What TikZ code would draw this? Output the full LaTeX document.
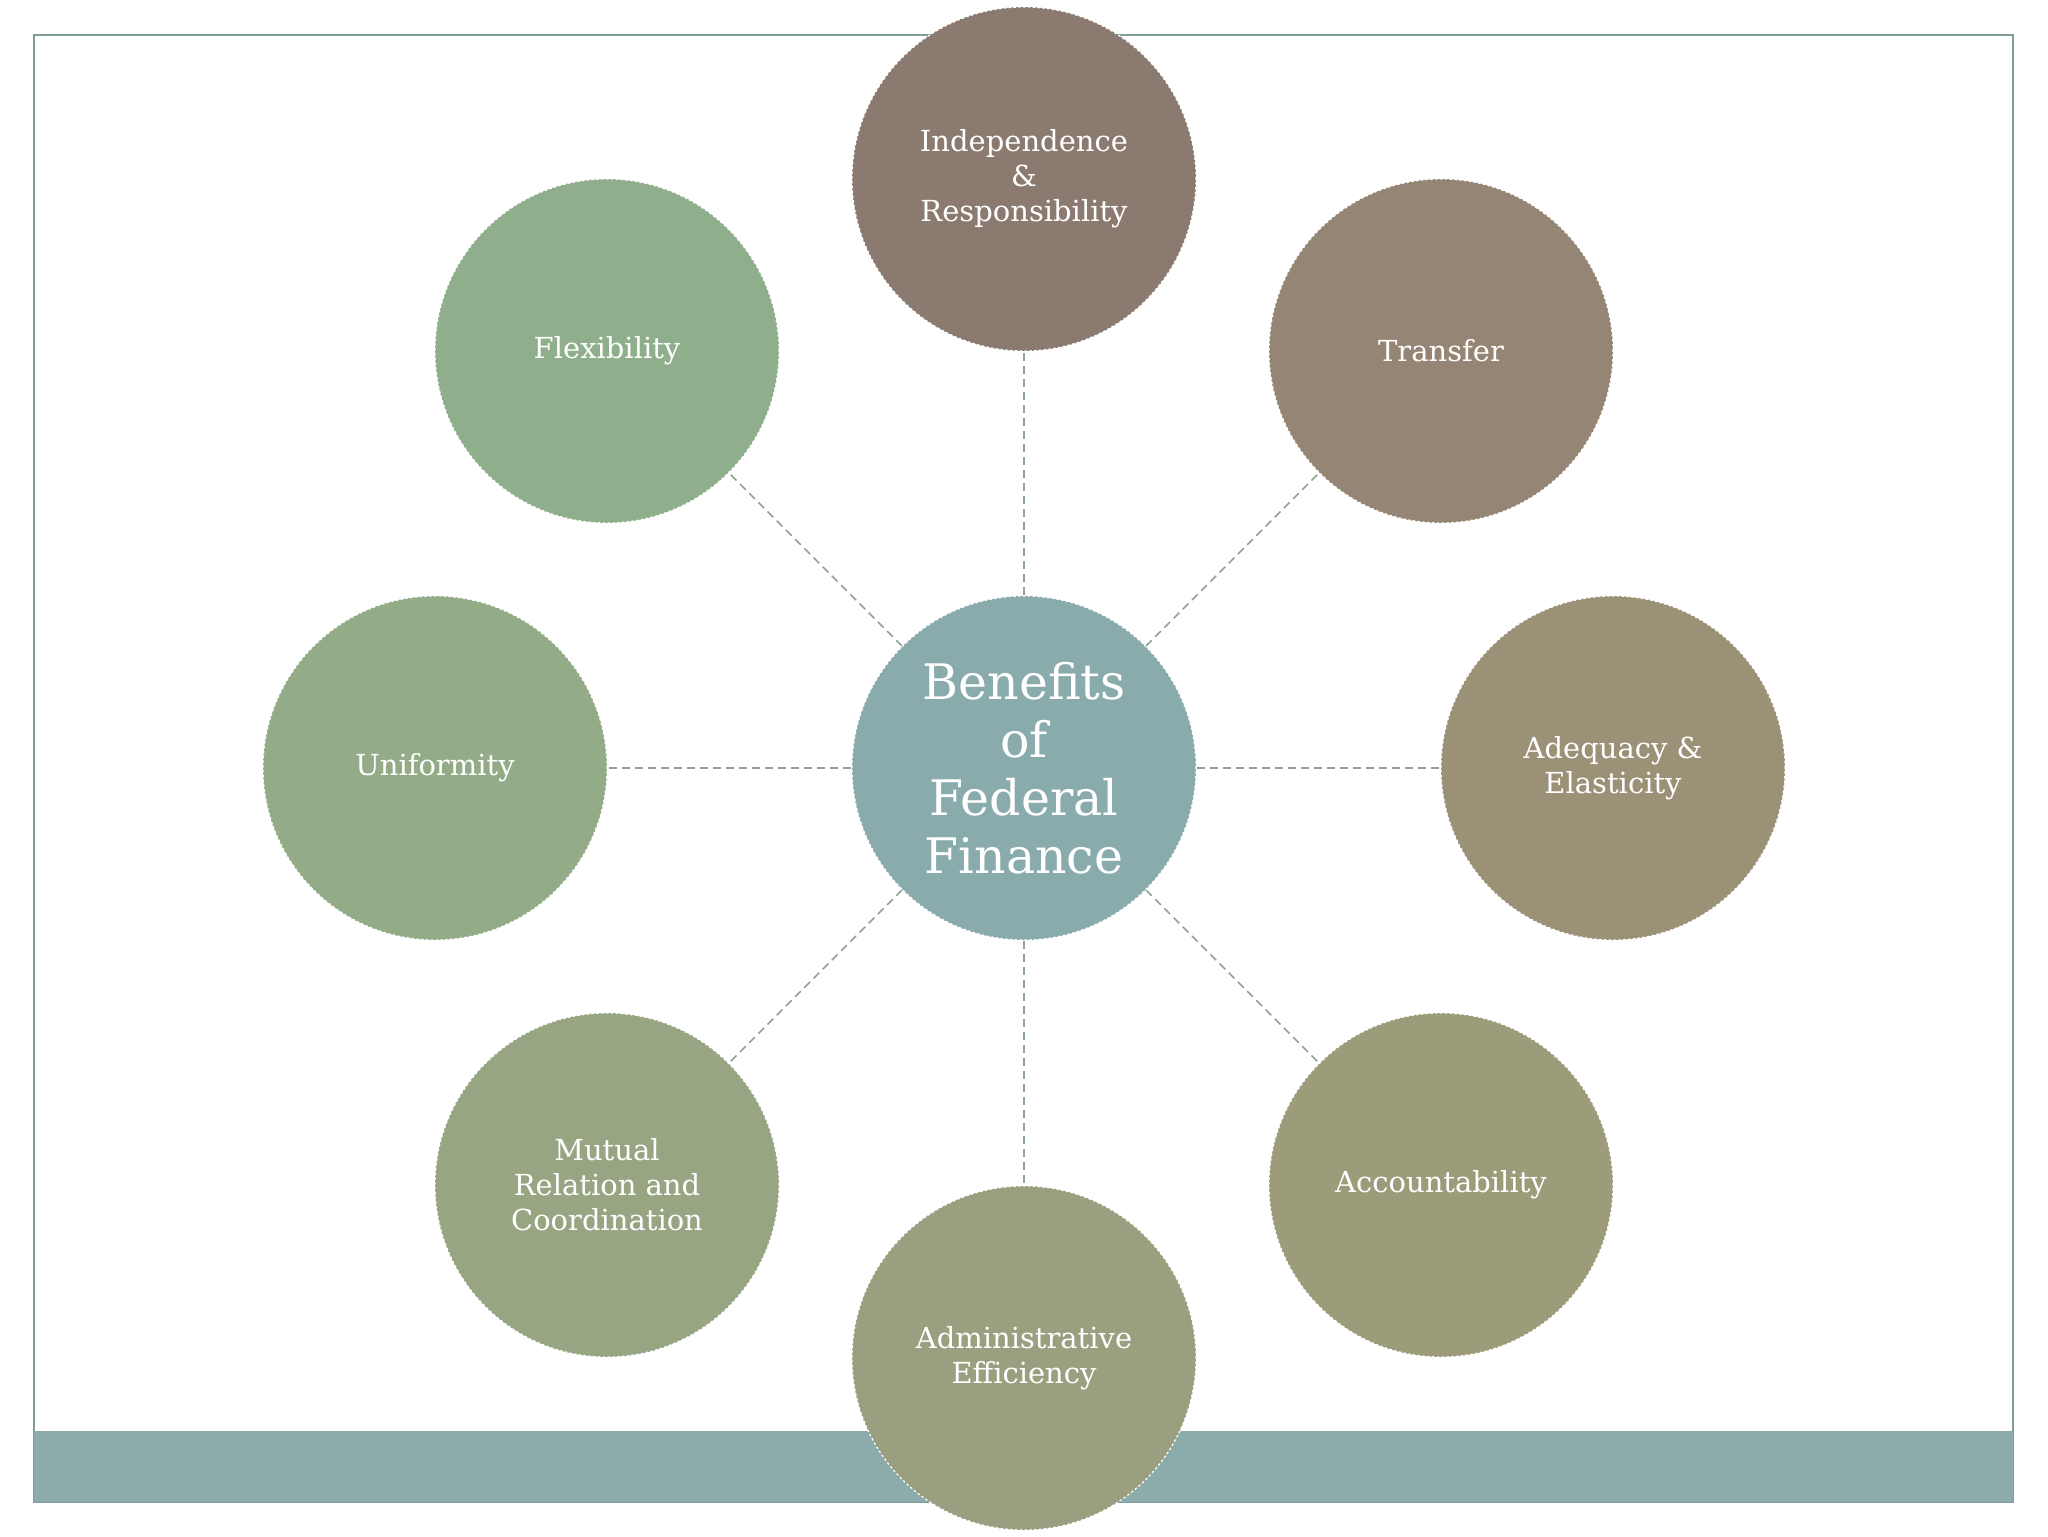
\documentclass[tikz,border=0pt]{standalone}
\usepackage{fontspec}
\setmainfont{DejaVu Serif}
\definecolor{frameC}{HTML}{7F9C98}
\definecolor{barC}{HTML}{8CABAB}
\definecolor{linkC}{HTML}{8EA390}
\definecolor{cCenter}{HTML}{8AABAB}
\definecolor{cIndep}{HTML}{8B7A70}
\definecolor{cTrans}{HTML}{948574}
\definecolor{cAdeq}{HTML}{9A9176}
\definecolor{cAcc}{HTML}{9C9C7A}
\definecolor{cAdmin}{HTML}{9AA07F}
\definecolor{cMutual}{HTML}{97A582}
\definecolor{cUnif}{HTML}{93AB87}
\definecolor{cFlex}{HTML}{8FAE8C}
\tikzset{
  bubble/.style={circle, minimum size=172pt, inner sep=0pt, draw=white, dash pattern=on 1.2pt off 1.2pt, line width=0.6pt,
    text=white, align=center, font=\fontsize{14.5pt}{17.5pt}\selectfont},
  hub/.style={bubble, font=\fontsize{24.5pt}{29pt}\selectfont},
  link/.style={draw=linkC, line width=0.8pt, dash pattern=on 4pt off 2.5pt}
}
\begin{document}
\begin{tikzpicture}[x=0.5pt, y=-0.5pt]
\useasboundingbox (0,0) rectangle (2048,1536);
\fill[white] (0,0) rectangle (2048,1536);
% frame and bar
\draw[frameC, line width=1pt] (34,35) rectangle (2013,1502);
\fill[barC] (34,1431) rectangle (2013,1502);
% nodes
\node[hub, fill=cCenter] (c) at (1024,768) {Benefits\\of\\Federal\\Finance};
\node[bubble, fill=cIndep] (ind) at (1024,179) {Independence\\\&\\Responsibility};
\node[bubble, fill=cTrans] (tra) at (1441,351) {Transfer};
\node[bubble, fill=cAdeq] (ade) at (1613,768) {Adequacy \&\\Elasticity};
\node[bubble, fill=cAcc] (acc) at (1441,1185) {Accountability};
\node[bubble, fill=cAdmin] (adm) at (1024,1358) {Administrative\\Efficiency};
\node[bubble, fill=cMutual] (mut) at (607,1185) {Mutual\\Relation and\\Coordination};
\node[bubble, fill=cUnif] (uni) at (435,768) {Uniformity};
\node[bubble, fill=cFlex] (fle) at (607,351) {Flexibility};
% connectors
\foreach \n in {ind,tra,ade,acc,adm,mut,uni,fle}
  \draw[link] (c) -- (\n);
\end{tikzpicture}
\end{document}
